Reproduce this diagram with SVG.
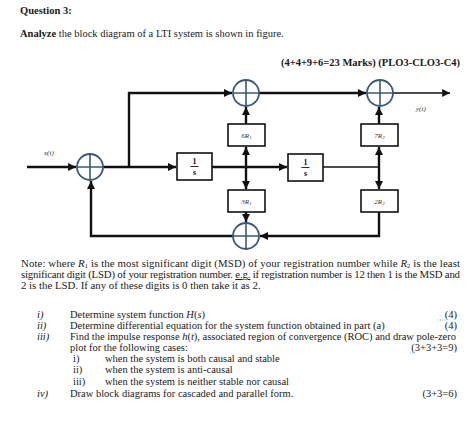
<svg xmlns="http://www.w3.org/2000/svg" width="474" height="432" viewBox="0 0 474 432">
<style>
.t{font-family:"Liberation Serif","Times New Roman",serif;font-size:10.5px;fill:#1a1a1a}
.n{font-size:10.8px}
.b{font-weight:bold}
.i{font-style:italic}
.lbl{font-family:"Liberation Serif","Times New Roman",serif;font-size:7px;font-style:italic;fill:#333}
.sum circle{fill:#fff;stroke:#3b5878;stroke-width:1.8}
.sum path{stroke:#3b5878;stroke-width:1.6;fill:none}
.blk rect{fill:#fff;stroke:#111;stroke-width:1.6}
.w{stroke:#111;stroke-width:2.4;fill:none}
.thin{stroke:#111;stroke-width:1.3;fill:none}
.frac{font-family:"Liberation Serif","Times New Roman",serif;font-size:8px;font-weight:bold;fill:#111;text-anchor:middle}
.ul{stroke:#9bb8d8;stroke-width:1;stroke-dasharray:1 1}
</style>
<defs>
<marker id="ah" viewBox="0 0 10 10" refX="10" refY="5" markerWidth="3.4" markerHeight="3.4" orient="auto" markerUnits="strokeWidth">
<path d="M0,0 L10,5 L0,10 z" fill="#111"/>
</marker>
<marker id="ah2" viewBox="0 0 10 10" refX="10" refY="5" markerWidth="6" markerHeight="6" orient="auto" markerUnits="strokeWidth">
<path d="M0,0 L10,5 L0,10 z" fill="#111"/>
</marker>
</defs>
<rect width="474" height="432" fill="#fff"/>

<g id="header">
<text class="t b" x="20" y="14">Question 3:</text>
<text class="t" x="20" y="37"><tspan class="b">Analyze</tspan> the block diagram of a LTI system is shown in figure.</text>
<text class="t b" x="460" y="66" text-anchor="end">(4+4+9+6=23 Marks) (PLO3-CLO3-C4)</text>
</g>

<g id="connectors">
<path class="w" d="M27,167 H76" marker-end="url(#ah)"/>
<path class="w" d="M103,167 H176" marker-end="url(#ah)"/>
<path class="w" d="M129,167 V93 H232" marker-end="url(#ah)"/>
<path class="w" d="M212,167 H287" marker-end="url(#ah)"/>
<path class="w" d="M246,167 V147" marker-end="url(#ah)"/>
<path class="w" d="M246,167 V189" marker-end="url(#ah)"/>
<path class="w" d="M246,124 V107" marker-end="url(#ah)"/>
<path class="w" d="M259,93 H366" marker-end="url(#ah)"/>
<path class="thin" d="M393,93 H450" marker-end="url(#ah2)"/>
<path class="thin" d="M323,167 H379"/>
<path class="w" d="M379,167 V147" marker-end="url(#ah)"/>
<path class="w" d="M379,167 V189" marker-end="url(#ah)"/>
<path class="w" d="M379,124 V107" marker-end="url(#ah)"/>
<path class="w" d="M379,212 V236 H260" marker-end="url(#ah)"/>
<path class="w" d="M246,212 V222" marker-end="url(#ah)"/>
<path class="w" d="M233,236 H91 V181" marker-end="url(#ah)"/>
<text class="lbl" x="44" y="155">x(t)</text>
<text class="lbl" x="416" y="111">y(t)</text>
</g>

<g id="sum1" class="sum"><circle cx="90" cy="167" r="13"/><path d="M77,167 H103 M90,154 V180"/></g>
<g id="sumT1" class="sum"><circle cx="246" cy="93" r="13"/><path d="M233,93 H259 M246,80 V106"/></g>
<g id="sumT2" class="sum"><circle cx="380" cy="93" r="13"/><path d="M367,93 H393 M380,80 V106"/></g>
<g id="sumB" class="sum"><circle cx="246" cy="236" r="13"/><path d="M233,236 H259 M246,223 V249"/></g>

<g id="int1" class="blk"><rect x="177" y="153" width="35" height="27"/>
<text class="frac" x="194.5" y="164">1</text><path d="M190.5,166.5 H198.5" stroke="#111" stroke-width="0.9"/><text class="frac" x="194.5" y="175">s</text></g>
<g id="int2" class="blk"><rect x="288" y="154" width="35" height="27"/>
<text class="frac" x="305.5" y="165">1</text><path d="M301.5,167.5 H309.5" stroke="#111" stroke-width="0.9"/><text class="frac" x="305.5" y="176">s</text></g>

<g id="g6R1" class="blk"><rect x="228" y="124" width="37" height="22"/><text class="lbl" x="246.5" y="137.5" text-anchor="middle">6R<tspan font-size="5" dy="1.5">1</tspan></text></g>
<g id="g3R1" class="blk"><rect x="228" y="190" width="37" height="22"/><text class="lbl" x="246.5" y="203.5" text-anchor="middle">3R<tspan font-size="5" dy="1.5">1</tspan></text></g>
<g id="g7R2" class="blk"><rect x="361" y="124" width="37" height="22"/><text class="lbl" x="379.5" y="137.5" text-anchor="middle">7R<tspan font-size="5" dy="1.5">2</tspan></text></g>
<g id="g2R2" class="blk"><rect x="361" y="190" width="37" height="22"/><text class="lbl" x="379.5" y="203.5" text-anchor="middle">2R<tspan font-size="5" dy="1.5">2</tspan></text></g>

<g id="note">
<text class="t n" x="21" y="266.5" textLength="439" lengthAdjust="spacing">Note: where <tspan class="i">R</tspan><tspan font-size="6.5" dy="1.5">1</tspan><tspan dy="-1.5"> is the most significant digit (MSD) of your registration number while </tspan><tspan class="i">R</tspan><tspan font-size="6.5" dy="1.5">2</tspan><tspan dy="-1.5"> is the least</tspan></text>
<text class="t n" x="21" y="278" textLength="439" lengthAdjust="spacing">significant digit (LSD) of your registration number. <tspan text-decoration="underline">e.g.</tspan> if registration number is 12 then 1 is the MSD and</text>
<text class="t n" x="21" y="289">2 is the LSD. If any of these digits is 0 then take it as 2.</text>
</g>

<g id="questions">
<text class="t i" x="37" y="318">i)</text>
<text class="t" x="70" y="318">Determine system function <tspan class="i">H</tspan>(<tspan class="i">s</tspan>)</text>
<text class="t" x="457" y="318" text-anchor="end">(4)</text>
<path class="ul" d="M438,320 H445"/>
<text class="t i" x="37" y="329">ii)</text>
<text class="t" x="70" y="329">Determine differential equation for the system function obtained in part (a)</text>
<text class="t" x="457" y="329" text-anchor="end">(4)</text>
<path class="ul" d="M378,331 H386"/>
<text class="t i" x="37" y="340">iii)</text>
<text class="t" x="70" y="340" textLength="386" lengthAdjust="spacing">Find the impulse response <tspan class="i">h</tspan>(<tspan class="i">t</tspan>), associated region of convergence (ROC) and draw pole-zero</text>
<text class="t" x="70" y="351">plot for the following cases:</text>
<text class="t" x="457" y="351" text-anchor="end">(3+3+3=9)</text>
<path class="ul" d="M410,353 H416"/>
<text class="t" x="73" y="362">i)</text>
<text class="t" x="105" y="362">when the system is both causal and stable</text>
<text class="t" x="73" y="373">ii)</text>
<text class="t" x="105" y="373">when the system is anti-causal</text>
<text class="t" x="73" y="385">iii)</text>
<text class="t" x="105" y="385">when the system is neither stable nor causal</text>
<text class="t i" x="37" y="397">iv)</text>
<text class="t" x="70" y="397">Draw block diagrams for cascaded and parallel form.</text>
<text class="t" x="457" y="397" text-anchor="end">(3+3=6)</text>
</g>
</svg>
